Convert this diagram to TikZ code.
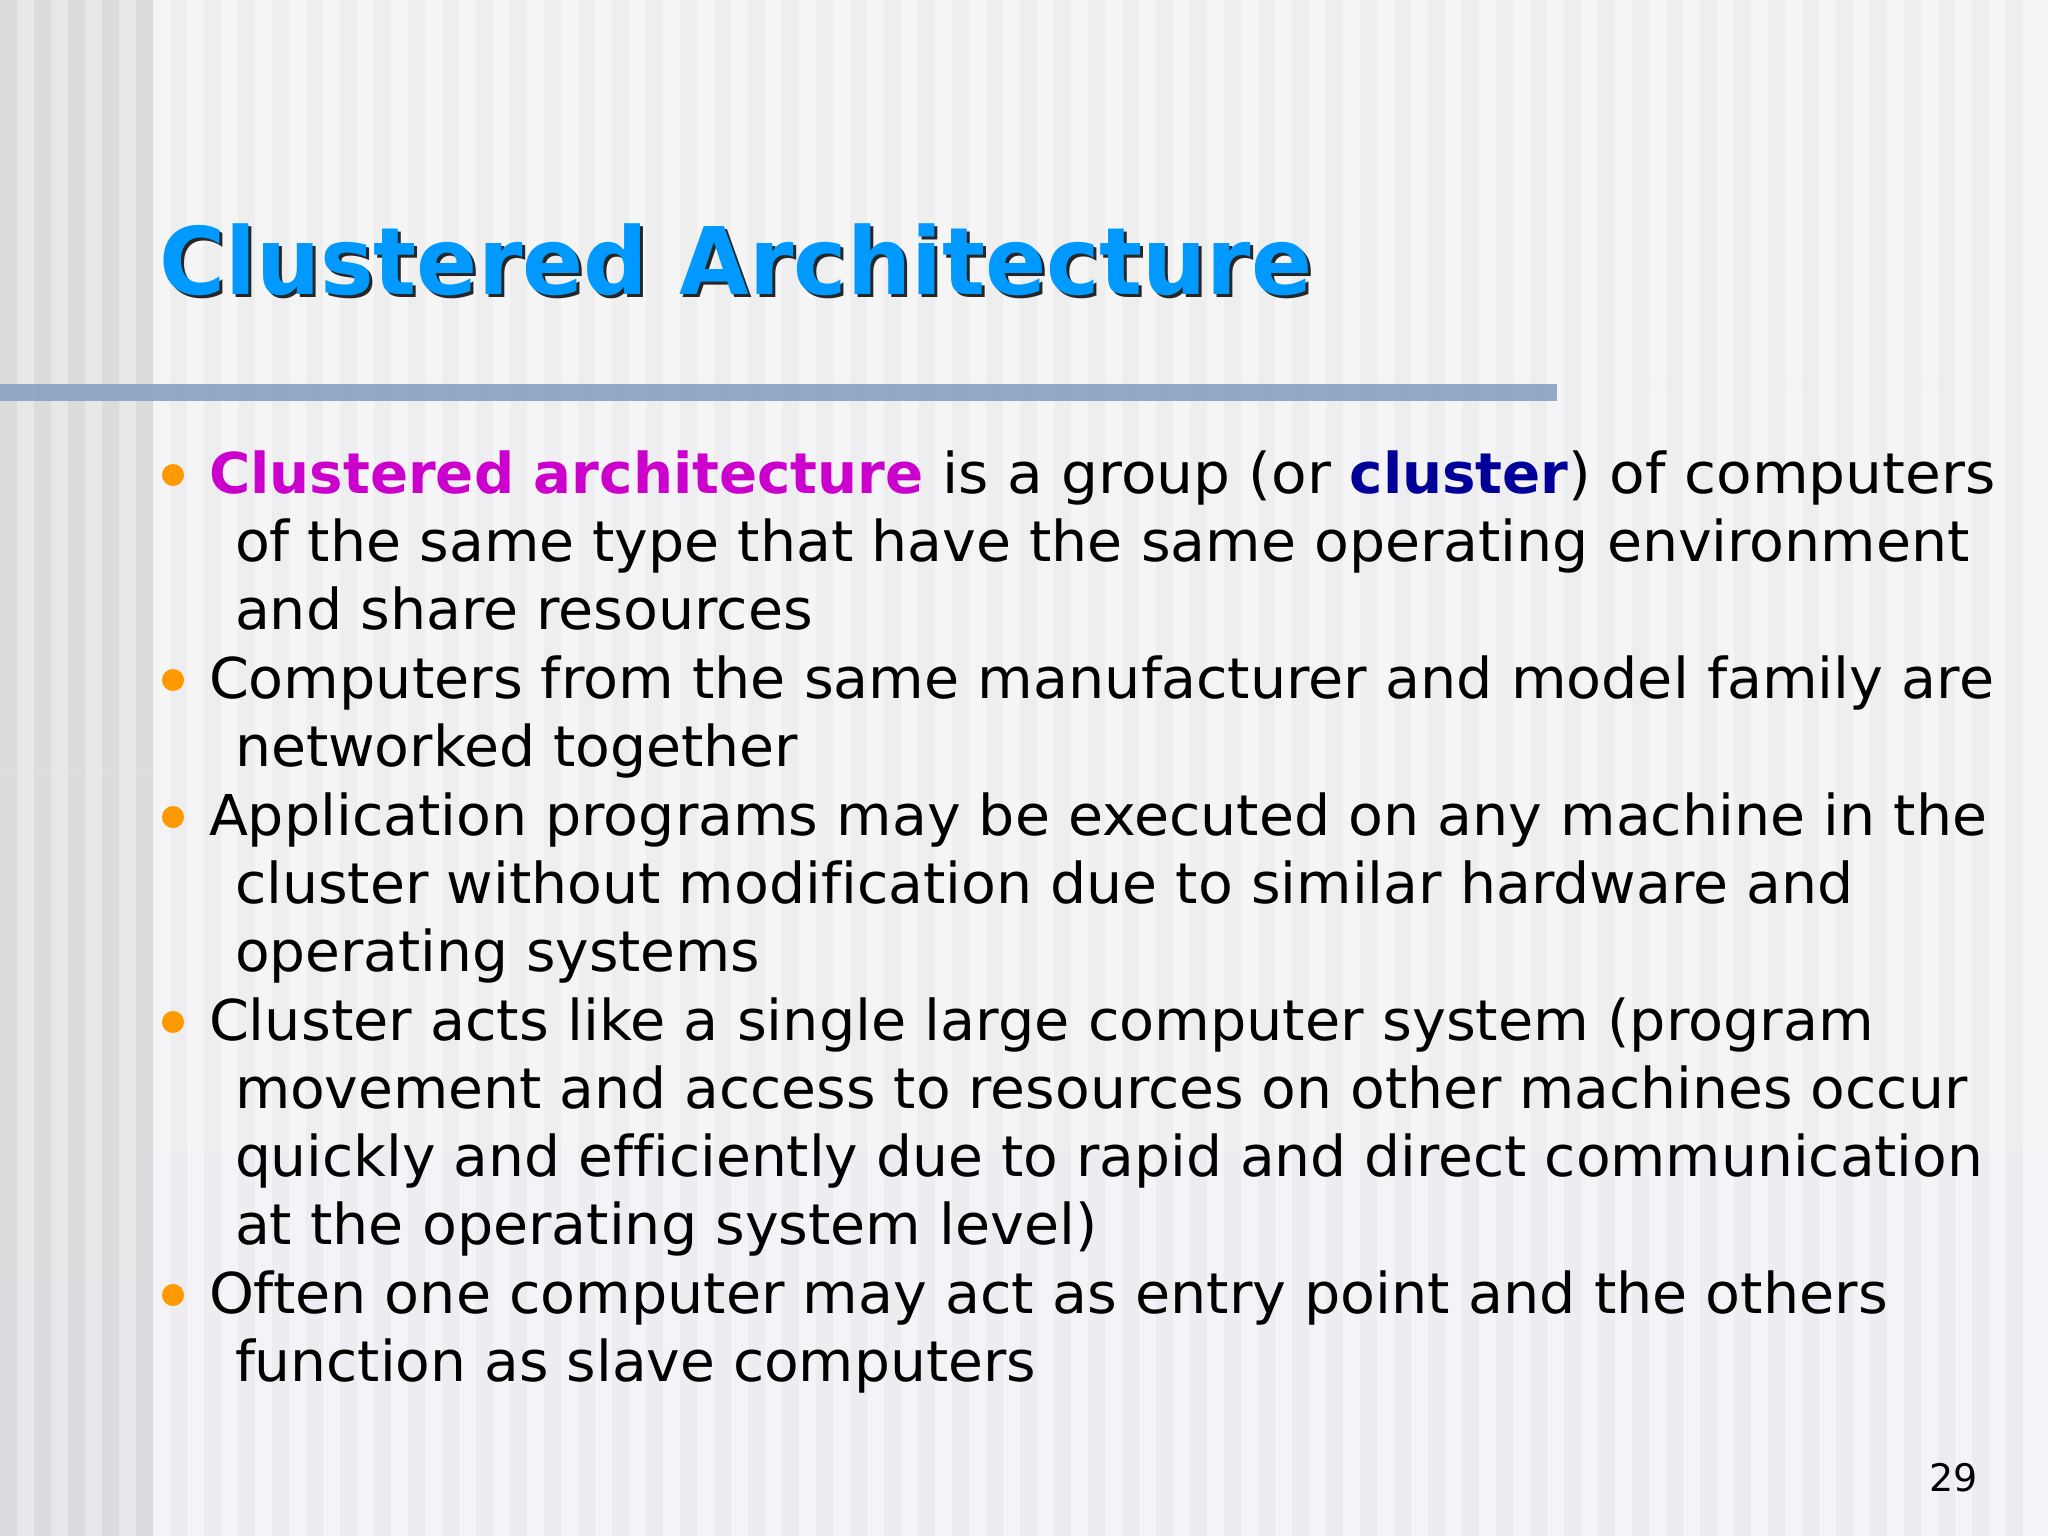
\documentclass[tikz,border=0pt]{standalone}
\usepackage{fontspec}
\setmainfont{DejaVu Sans}[Ligatures=NoCommon]
\newfontfamily\titlefont{DejaVu Sans Bold}[FakeStretch=0.967]
\newfontfamily\boldpart{DejaVu Sans Bold}
\newcommand{\strline}[2]{{\addfontfeature{FakeStretch=#1}#2}}
\definecolor{titleblue}{HTML}{0099FF}
\definecolor{titleshade}{HTML}{262626}
\definecolor{barblue}{HTML}{8CA3C3}
\definecolor{magentak}{HTML}{CC00CC}
\definecolor{clusterblue}{HTML}{000099}
\definecolor{bulletorange}{HTML}{FF9900}
\definecolor{topbg}{HTML}{F5F5F5}
\definecolor{botbg}{HTML}{F5F3F7}
\definecolor{topdark}{HTML}{EEEEEE}
\definecolor{botdark}{HTML}{EEECF0}
\definecolor{lefttop}{HTML}{E8E8E8}
\definecolor{leftbot}{HTML}{E9E7EB}
\definecolor{leftdtop}{HTML}{DCDCDC}
\definecolor{leftdbot}{HTML}{DDDBDF}
\tikzset{
 x=0.01cm,y=-0.01cm,
 bodyline/.style={anchor=base west,inner sep=0pt,outer sep=0pt,font=\fontsize{16}{16}\selectfont,text=black},
 bulletdot/.style={circle,fill=bulletorange,draw=none,minimum size=0.22cm,inner sep=0pt},
 titletext/.style={anchor=base west,inner sep=0pt,outer sep=0pt,font=\fontsize{26.5}{26.5}\selectfont\titlefont}
}
\begin{document}
\begin{tikzpicture}
\useasboundingbox (0,0) rectangle (2048,1536);
\shade[top color=topbg,bottom color=botbg] (0,0) rectangle (2048,1536);
\foreach \xs in {170,204,238,272,306,340,374,408,442,476,510,544,578,612,646,680,714,748,782,816,850,884,918,952,986,1020,1054,1088,1122,1156,1190,1224,1258,1292,1326,1360,1394,1428,1462,1496,1530,1564,1598,1632,1666,1700,1734,1768,1802,1836,1870,1904,1938,1972,2006}
  \shade[top color=topdark,bottom color=botdark] (\xs,0) rectangle ({\xs+17},1536);
\shade[top color=lefttop,bottom color=leftbot] (0,0) rectangle (153,1536);
\foreach \xs in {0,34,68,102,136}
  \shade[top color=leftdtop,bottom color=leftdbot] (\xs,0) rectangle ({\xs+17},1536);
\fill[barblue,fill opacity=0.92] (0,384) rectangle (1557,401);
\node[titletext] (title) at (159,294) {\makebox[0pt][l]{\hspace{0.03cm}\raisebox{-0.03cm}{\textcolor{titleshade}{Clustered Architecture}}}\textcolor{titleblue}{Clustered Architecture}};
\node[bulletdot] (b1) at (173,475) {};
\node[bodyline] (l1) at (209,493) {\strline{1.0347}{\textcolor{magentak}{\boldpart Clustered architecture} is a group (or \textcolor{clusterblue}{\boldpart cluster}) of computers}};
\node[bodyline] (l2) at (235,561) {\strline{1.012}{of the same type that have the same operating environment}};
\node[bodyline] (l3) at (235,629) {\strline{1.0135}{and share resources}};
\node[bulletdot] (b2) at (173,680) {};
\node[bodyline] (l4) at (209,698) {\strline{1.0157}{Computers from the same manufacturer and model family are}};
\node[bodyline] (l5) at (235,766) {\strline{1.011}{networked together}};
\node[bulletdot] (b3) at (173,817) {};
\node[bodyline] (l6) at (209,835) {\strline{1.0128}{Application programs may be executed on any machine in the}};
\node[bodyline] (l7) at (235,903) {\strline{1.012}{cluster without modification due to similar hardware and}};
\node[bodyline] (l8) at (235,971) {\strline{1.006}{operating systems}};
\node[bulletdot] (b4) at (173,1022) {};
\node[bodyline] (l9) at (209,1040) {\strline{1.0175}{Cluster acts like a single large computer system (program}};
\node[bodyline] (l10) at (235,1108) {\strline{1.0082}{movement and access to resources on other machines occur}};
\node[bodyline] (l11) at (235,1176) {\strline{1.0075}{quickly and efficiently due to rapid and direct communication}};
\node[bodyline] (l12) at (235,1244) {\strline{1.0135}{at the operating system level)}};
\node[bulletdot] (b5) at (173,1295) {};
\node[bodyline] (l13) at (209,1313) {\strline{1.015}{Often one computer may act as entry point and the others}};
\node[bodyline] (l14) at (235,1381) {\strline{1.007}{function as slave computers}};
\node[anchor=base west,inner sep=0pt,font=\fontsize{10.8}{10.8}\selectfont] (pagenum) at (1929,1491) {29};
\end{tikzpicture}
\end{document}
